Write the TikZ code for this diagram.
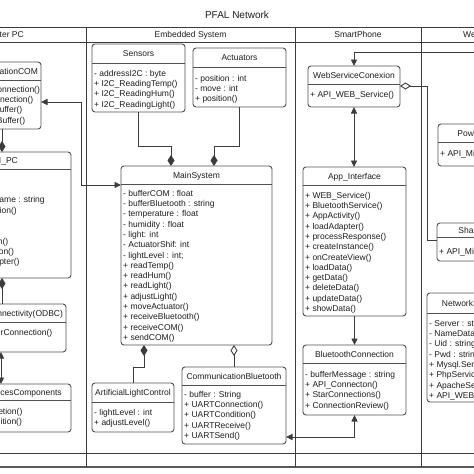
\documentclass[tikz,border=0pt]{standalone}
\usepackage{fontspec}
\setmainfont{Liberation Sans}
\usetikzlibrary{arrows.meta,fit}
\definecolor{ln}{HTML}{3C3C3C}
\definecolor{bxc}{HTML}{505050}
\definecolor{txt}{HTML}{1E1E1E}
\tikzset{
 clsbox/.style={draw=bxc, line width=0.9pt, rounded corners=3pt, fill=white, inner sep=0pt, outer sep=0pt},
 sepline/.style={draw=bxc, line width=0.8pt},
 clstitle/.style={inner sep=0pt, anchor=base, font=\fontsize{8.5}{10.3}\selectfont, text=txt},
 clsbody/.style={inner sep=0pt, anchor=north west, align=left, font=\fontsize{8.5}{10.3}\selectfont, text=txt},
 conn/.style={draw=ln, line width=0.9pt},
 arr/.tip={Triangle[length=6.5pt,width=6pt]},
 cmp/.tip={Diamond[length=11pt,width=7pt]},
 agr/.tip={Diamond[length=11pt,width=7pt,fill=white]},
 lanetxt/.style={inner sep=0pt, anchor=base, font=\fontsize{8.5}{10}\selectfont, text=txt},
 frameline/.style={draw=ln, line width=0.9pt},
}
\newcommand\umlcls[9]{%
 \node[clsbox, fit={(#2,#3) (#4,#5)}] (#1) {};
 \draw[sepline] (#2,#6) -- (#4,#6);
 \node[clstitle] (#1-t) at ({(#2+#4)/2},{(#3+#6)/2+3.1}) {#7};
 \node[clsbody] (#1-b) at ([yshift=3.2pt]#8) {\rule{0pt}{6.2pt}#9};
}
\begin{document}
\begin{tikzpicture}[x=1pt,y=-1pt]
\useasboundingbox (0,0) rectangle (474,474);
\clip (0,0) rectangle (474,474);
\fill[white] (0,0) rectangle (474,474);
% pool and lanes
\draw[frameline] (-5,27) -- (480,27);
\draw[frameline] (-5,42) -- (480,42);
\draw[frameline] (-5,453) -- (480,453);
\draw[frameline, line width=1.4pt, draw=ln!85] (-5,467) -- (480,467);
\draw[frameline] (86,27) -- (86,467);
\draw[frameline] (295,27) -- (295,467);
\draw[frameline] (421,27) -- (421,467);
\node[lanetxt, font=\fontsize{10}{12}\selectfont] (pool) at (237,18.5) {PFAL Network};
\node[lanetxt, anchor=base east] (lane1) at (24,37) {Computer PC};
\node[lanetxt] (lane2) at (190.5,37) {Embedded System};
\node[lanetxt] (lane3) at (358,37) {SmartPhone};
\node[lanetxt, anchor=base west] (lane4) at (463,37) {Web Server};
% Computer PC lane
\umlcls{ccom}{-44}{62}{41}{129}{80}{CommunicationCOM}{-38,89}{+ CloseConnection()\\+ EndConnection()\\+ DeleteBuffer()\\+ UpdateBuffer()}
\umlcls{pc}{-67}{152}{71}{278}{169}{GUI\_PC}{-47,179}{- id : int\\- port : int\\- databaseName : string\\+ Configuration()\\+ start()\\+ stop()\\+ Notification()\\+ Presentation()\\+ createAdapter()}
\umlcls{odbc}{-53}{304}{66}{352}{322}{DatabaseConnectivity(ODBC)}{-29,332}{+ ServerConnection()}
\umlcls{dev}{-26}{384}{71}{432}{400}{DevicesComponents}{-22,411}{+ Deletion()\\+ Addition()}
% Embedded System lane
\umlcls{sensors}{92}{44}{185}{112}{63}{Sensors}{94,73}{- addressI2C : byte\\+ I2C\_ReadingTemp()\\+ I2C\_ReadingHum()\\+ I2C\_ReadingLight()}
\umlcls{act}{193}{48}{286}{107}{67}{Actuators}{195,78}{- position : int\\- move : int\\+ position()}
\umlcls{main}{121}{166}{272}{345}{184}{MainSystem}{123,193}{- bufferCOM : float\\- bufferBluetooth : string\\- temperature : float\\- humidity : float\\- light: int\\- ActuatorShif: int\\- lightLevel : int;\\+ readTemp()\\+ readHum()\\+ readLight()\\+ adjustLight()\\+ moveActuator()\\+ receiveBluetooth()\\+ receiveCOM()\\+ sendCOM()}
\umlcls{alc}{92}{383}{174}{432}{402}{ArtificialLightControl}{94,412}{- lightLevel : int\\+ adjustLevel()}
\umlcls{cb}{182}{367}{286}{444}{385}{CommunicationBluetooth}{184,394}{- buffer : String\\+ UARTConnection()\\+ UARTCondition()\\+ UARTReceive()\\+ UARTSend()}
% SmartPhone lane
\umlcls{wsc}{308}{66}{400}{107}{84}{WebServiceConexion}{310,94}{+ API\_WEB\_Service()}
\umlcls{app}{303}{167}{406}{316}{185}{App\_Interface}{305,195}{+ WEB\_Service()\\+ BluetoothService()\\+ AppActivity()\\+ loadAdapter()\\+ processResponse()\\+ createInstance()\\+ onCreateView()\\+ loadData()\\+ getData()\\+ deleteData()\\+ updateData()\\+ showData()}
\umlcls{btc}{303}{345}{406}{415}{363}{BluetoothConnection}{305,374}{- bufferMessage : string\\+ API\_Connecton()\\+ StarConnections()\\+ ConnectionReview()}
% Web lane
\umlcls{power}{438}{124}{527}{166}{142}{PowerSupply}{440,153}{+ API\_MicroService()}
\umlcls{share}{437}{223}{553}{261}{237}{SharedPreferences}{439,251}{+ API\_MicroService()}
\umlcls{net}{427}{293}{513}{402}{313}{NetworkServer}{429,323}{- Server : string\\- NameData : string\\- Uid : string\\- Pwd : string\\+ Mysql.Server()\\+ PhpService()\\+ ApacheServer()\\+ API\_WEB\_Service()}
% bend points
\coordinate (L0) at (1,0);
\coordinate (L1) at (2,0);
\coordinate (B1) at (81,102);
\coordinate (B2) at (81,185);
\coordinate (M1) at (171,146);
\coordinate (M2) at (214,146);
\coordinate (M3) at (144,367);
\coordinate (P1) at (354,437);
\coordinate (W0) at (490,52);
\coordinate (W1) at (427,86);
\coordinate (W2) at (427,240);
% connectors
\draw[conn, arrows={-cmp}] (ccom.south -| L1) -- (pc.north -| L1);
\draw[conn, arrows={cmp-}] (pc.south -| L1) -- (odbc.north -| L1);
\draw[conn, arrows={arr-arr}] (odbc.south -| L0) -- (dev.north -| L0);
\draw[conn, arrows={arr-arr}] (B1 -| ccom.east) -- (B1) -- (B2) -- (B2 -| main.west);
\draw[conn, arrows={-cmp}] (sensors.south) |- (M1) -- (M1 |- main.north);
\draw[conn, arrows={-cmp}] (act.south) |- (M2) -- (M2 |- main.north);
\draw[conn, arrows={cmp-}] (M3 |- main.south) -- (M3) -| (alc.north);
\draw[conn, arrows={agr-}] (cb.north |- main.south) -- (cb.north);
\draw[conn, arrows={arr-arr}] (wsc.south) -- (wsc.south |- app.north);
\draw[conn, arrows={-arr}] (app.south) -- (btc.north);
\draw[conn, arrows={arr-arr}] (btc.south) -- (btc.south |- P1) -- (P1 -| cb.east);
\draw[conn, arrows={-arr}] (W0) -| (wsc.north);
\draw[conn, arrows={agr-}] (W1 -| wsc.east) -- (W1) -- (W2) -- (W2 -| share.west);
\end{tikzpicture}
\end{document}
